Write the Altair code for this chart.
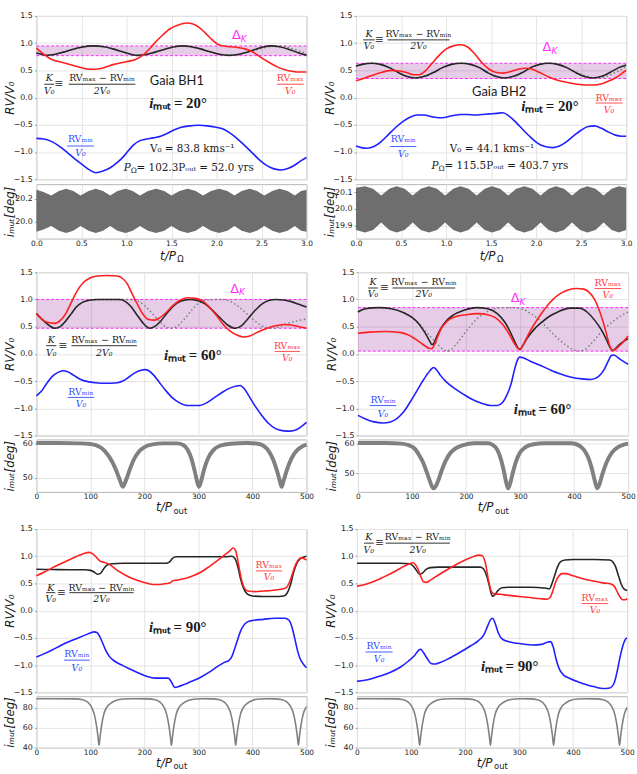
import altair as alt
import pandas as pd

# ------------------------------------------------------------------ styling
SANS = "DejaVu Sans"
SERIF = "DejaVu Serif"
INK = "#1a1a1a"
RED = "#ff1f1f"
BLUE = "#1f1fff"
RED_TXT = "#ff3b3b"
BLUE_TXT = "#2f4bff"
MAGENTA = "#ff2bff"
DOT_GREY = "#6e7e6e"
BAND = "#800080"

W = 273
MAIN_H = 165

RV_TICKS = [-1.5, -1.0, -0.5, 0.0, 0.5, 1.0, 1.5]
T_OMEGA = [0.0, 0.5, 1.0, 1.5, 2.0, 2.5, 3.0]
T_OUT = [0, 100, 200, 300, 400, 500]

# ------------------------------------------------------------------ data
# Gaia BH1, i_mut = 20 deg (t / P_Omega)
bh1_20_max = [(0.0, 0.91), (0.08, 0.80), (0.16, 0.71), (0.30, 0.64), (0.45, 0.57), (0.60, 0.52),
              (0.70, 0.53), (0.86, 0.61), (1.00, 0.66), (1.10, 0.70), (1.19, 0.79), (1.27, 0.92),
              (1.34, 1.05), (1.41, 1.16), (1.48, 1.26), (1.57, 1.33), (1.67, 1.37), (1.74, 1.35),
              (1.80, 1.30), (1.88, 1.18), (1.96, 1.05), (2.04, 0.96), (2.12, 0.94), (2.20, 0.93),
              (2.30, 0.90), (2.38, 0.86), (2.45, 0.79), (2.52, 0.71), (2.60, 0.63), (2.68, 0.56),
              (2.76, 0.51), (2.85, 0.48), (2.93, 0.47), (3.00, 0.47)]
bh1_20_min = [(0.0, -0.75), (0.08, -0.76), (0.16, -0.80), (0.26, -0.90), (0.35, -1.02), (0.43, -1.13),
              (0.50, -1.22), (0.58, -1.32), (0.66, -1.38), (0.74, -1.35), (0.82, -1.29), (0.90, -1.19),
              (0.97, -1.08), (1.03, -0.96), (1.08, -0.87), (1.14, -0.80), (1.20, -0.77), (1.30, -0.74),
              (1.38, -0.71), (1.45, -0.66), (1.52, -0.60), (1.60, -0.55), (1.70, -0.52), (1.80, -0.51),
              (1.90, -0.52), (1.98, -0.54), (2.06, -0.57), (2.14, -0.64), (2.22, -0.74), (2.30, -0.86),
              (2.40, -1.02), (2.48, -1.15), (2.56, -1.25), (2.64, -1.31), (2.72, -1.33), (2.80, -1.30),
              (2.88, -1.23), (2.95, -1.15), (3.00, -1.10)]
bh1_20_k = [(0.0, 0.82), (0.06, 0.795), (0.12, 0.775), (0.20, 0.79), (0.30, 0.835), (0.40, 0.885),
            (0.50, 0.925), (0.63, 0.95), (0.75, 0.935), (0.85, 0.895), (0.95, 0.845), (1.05, 0.795),
            (1.13, 0.775), (1.22, 0.79), (1.32, 0.835), (1.42, 0.885), (1.52, 0.93), (1.62, 0.95),
            (1.72, 0.935), (1.82, 0.895), (1.92, 0.845), (2.03, 0.795), (2.14, 0.775), (2.24, 0.79),
            (2.34, 0.835), (2.44, 0.89), (2.52, 0.93), (2.60, 0.95), (2.70, 0.935), (2.80, 0.89),
            (2.90, 0.83), (3.00, 0.78)]
bh1_20_kmodel = [(0.0, 0.82), (0.06, 0.795), (0.12, 0.775), (0.20, 0.79), (0.30, 0.835), (0.40, 0.885),
                 (0.50, 0.925), (0.63, 0.95), (0.75, 0.935), (0.85, 0.895), (0.95, 0.845), (1.05, 0.795),
                 (1.13, 0.775), (1.22, 0.79), (1.32, 0.835), (1.42, 0.885), (1.52, 0.93), (1.62, 0.95),
                 (1.72, 0.935), (1.82, 0.895), (1.92, 0.845), (2.03, 0.795), (2.14, 0.775), (2.24, 0.79),
                 (2.34, 0.835), (2.44, 0.875), (2.53, 0.915), (2.63, 0.945), (2.73, 0.945), (2.83, 0.905),
                 (2.92, 0.855), (3.00, 0.81)]
bh1_20_band = [0.77, 0.95]
# i_mut envelope (t, lower, upper)
bh1_20_imut = [(0.0, 19.91, 20.28), (0.08, 19.93, 20.26), (0.165, 19.96, 20.23), (0.25, 19.92, 20.27),
               (0.33, 19.90, 20.29), (0.41, 19.92, 20.27), (0.49, 19.96, 20.23), (0.58, 19.92, 20.27),
               (0.66, 19.90, 20.29), (0.74, 19.92, 20.27), (0.82, 19.96, 20.23), (0.90, 19.92, 20.27),
               (0.99, 19.90, 20.29), (1.07, 19.92, 20.27), (1.15, 19.96, 20.23), (1.24, 19.92, 20.27),
               (1.33, 19.90, 20.29), (1.42, 19.92, 20.27), (1.50, 19.96, 20.23), (1.59, 19.92, 20.27),
               (1.68, 19.90, 20.29), (1.77, 19.92, 20.27), (1.85, 19.96, 20.23), (1.94, 19.92, 20.27),
               (2.03, 19.90, 20.29), (2.12, 19.92, 20.27), (2.20, 19.96, 20.23), (2.28, 19.92, 20.27),
               (2.37, 19.90, 20.29), (2.45, 19.92, 20.27), (2.53, 19.96, 20.23), (2.62, 19.92, 20.27),
               (2.70, 19.90, 20.29), (2.79, 19.92, 20.27), (2.87, 19.96, 20.23), (2.94, 19.92, 20.27),
               (3.00, 19.91, 20.28)]

# Gaia BH2, i_mut = 20 deg (t / P_Omega)
bh2_20_max = [(0.0, 0.31), (0.10, 0.36), (0.20, 0.42), (0.30, 0.47), (0.40, 0.50), (0.48, 0.49),
              (0.56, 0.46), (0.64, 0.42), (0.70, 0.42), (0.77, 0.49), (0.84, 0.62), (0.92, 0.77),
              (1.00, 0.89), (1.08, 0.95), (1.16, 0.97), (1.24, 0.93), (1.32, 0.80), (1.40, 0.64),
              (1.48, 0.52), (1.56, 0.46), (1.64, 0.45), (1.72, 0.48), (1.80, 0.52), (1.88, 0.54),
              (1.96, 0.52), (2.04, 0.46), (2.14, 0.38), (2.24, 0.32), (2.34, 0.28), (2.44, 0.25),
              (2.54, 0.23), (2.64, 0.23), (2.72, 0.25), (2.80, 0.30), (2.88, 0.36), (2.95, 0.44),
              (3.00, 0.50)]
bh2_20_min = [(0.0, -0.89), (0.06, -0.92), (0.12, -0.93), (0.20, -0.90), (0.28, -0.81), (0.36, -0.68),
              (0.44, -0.55), (0.52, -0.44), (0.60, -0.36), (0.68, -0.32), (0.76, -0.32), (0.84, -0.35),
              (0.92, -0.37), (1.00, -0.36), (1.08, -0.33), (1.16, -0.31), (1.24, -0.31), (1.32, -0.32),
              (1.40, -0.31), (1.48, -0.30), (1.56, -0.29), (1.63, -0.28), (1.70, -0.34), (1.78, -0.46),
              (1.86, -0.60), (1.94, -0.73), (2.02, -0.84), (2.10, -0.90), (2.18, -0.92), (2.26, -0.89),
              (2.34, -0.81), (2.42, -0.70), (2.50, -0.60), (2.58, -0.53), (2.65, -0.52), (2.72, -0.56),
              (2.80, -0.63), (2.88, -0.69), (2.95, -0.71), (3.00, -0.71)]
bh2_20_k = [(0.0, 0.58), (0.08, 0.615), (0.17, 0.63), (0.27, 0.61), (0.37, 0.55), (0.47, 0.46),
            (0.56, 0.39), (0.66, 0.36), (0.76, 0.39), (0.86, 0.46), (0.96, 0.55), (1.06, 0.61),
            (1.17, 0.63), (1.27, 0.61), (1.37, 0.55), (1.46, 0.46), (1.55, 0.39), (1.65, 0.36),
            (1.75, 0.39), (1.85, 0.46), (1.94, 0.55), (2.04, 0.61), (2.14, 0.63), (2.24, 0.61),
            (2.34, 0.55), (2.44, 0.46), (2.53, 0.39), (2.63, 0.36), (2.73, 0.39), (2.83, 0.47),
            (2.92, 0.55), (3.00, 0.60)]
bh2_20_kmodel = [(0.0, 0.58), (0.08, 0.615), (0.17, 0.63), (0.27, 0.61), (0.37, 0.55), (0.47, 0.46),
                 (0.56, 0.39), (0.66, 0.36), (0.76, 0.39), (0.86, 0.46), (0.96, 0.55), (1.06, 0.61),
                 (1.17, 0.63), (1.27, 0.61), (1.37, 0.55), (1.46, 0.46), (1.55, 0.39), (1.65, 0.36),
                 (1.75, 0.39), (1.85, 0.46), (1.94, 0.55), (2.04, 0.61), (2.14, 0.63), (2.24, 0.61),
                 (2.34, 0.55), (2.44, 0.47), (2.55, 0.40), (2.66, 0.36), (2.78, 0.39), (2.88, 0.46),
                 (2.96, 0.53), (3.00, 0.57)]
bh2_20_band = [0.35, 0.63]
bh2_20_imut = [(0.0, 19.875, 20.125), (0.10, 19.86, 20.135), (0.19, 19.875, 20.12), (0.28, 19.92, 20.08),
               (0.37, 19.875, 20.12), (0.45, 19.86, 20.135), (0.54, 19.875, 20.12), (0.63, 19.92, 20.08),
               (0.72, 19.875, 20.12), (0.81, 19.86, 20.135), (0.90, 19.875, 20.12), (0.99, 19.92, 20.08),
               (1.08, 19.875, 20.12), (1.16, 19.86, 20.135), (1.25, 19.875, 20.12), (1.34, 19.92, 20.08),
               (1.43, 19.875, 20.12), (1.51, 19.86, 20.135), (1.60, 19.875, 20.12), (1.69, 19.92, 20.08),
               (1.78, 19.875, 20.12), (1.87, 19.86, 20.135), (1.96, 19.875, 20.12), (2.05, 19.92, 20.08),
               (2.14, 19.875, 20.12), (2.22, 19.86, 20.135), (2.31, 19.875, 20.12), (2.40, 19.92, 20.08),
               (2.49, 19.875, 20.12), (2.57, 19.86, 20.135), (2.66, 19.875, 20.12), (2.75, 19.92, 20.08),
               (2.84, 19.875, 20.12), (2.92, 19.86, 20.135), (3.00, 19.875, 20.125)]

# Gaia BH1, i_mut = 60 deg (t / P_out)
bh1_60_max = [(0, 0.74), (10, 0.64), (20, 0.58), (34, 0.56), (45, 0.62), (55, 0.75), (65, 0.95),
              (75, 1.15), (88, 1.32), (100, 1.40), (113, 1.43), (130, 1.44), (150, 1.43), (160, 1.38),
              (168, 1.29), (176, 1.13), (186, 0.93), (198, 0.72), (208, 0.63), (218, 0.62), (228, 0.66),
              (240, 0.76), (253, 0.89), (265, 0.98), (280, 1.03), (295, 1.02), (308, 0.97), (320, 0.86),
              (333, 0.71), (345, 0.55), (357, 0.43), (370, 0.35), (383, 0.31), (395, 0.33), (410, 0.40),
              (425, 0.46), (440, 0.51), (458, 0.54), (472, 0.53), (486, 0.50), (500, 0.47)]
bh1_60_min = [(0, -0.77), (10, -0.68), (20, -0.53), (30, -0.41), (40, -0.34), (49, -0.31), (58, -0.33),
              (70, -0.40), (82, -0.47), (95, -0.51), (110, -0.53), (130, -0.54), (150, -0.53),
              (160, -0.50), (172, -0.42), (184, -0.34), (194, -0.30), (201, -0.29), (208, -0.31),
              (218, -0.40), (228, -0.53), (240, -0.68), (252, -0.81), (265, -0.90), (280, -0.95),
              (300, -0.95), (315, -0.90), (330, -0.80), (345, -0.70), (358, -0.63), (370, -0.59),
              (377, -0.58), (385, -0.64), (395, -0.80), (405, -0.96), (418, -1.14), (430, -1.28),
              (442, -1.37), (455, -1.41), (470, -1.42), (480, -1.40), (490, -1.34), (500, -1.26)]
bh1_60_k = [(0, 0.74), (12, 0.62), (24, 0.52), (34, 0.47), (44, 0.50), (54, 0.60), (64, 0.73),
            (74, 0.86), (86, 0.95), (100, 0.99), (113, 1.0), (155, 1.0), (165, 0.96), (175, 0.87),
            (186, 0.72), (198, 0.56), (210, 0.47), (220, 0.51), (230, 0.60), (242, 0.75), (254, 0.88),
            (268, 0.97), (284, 1.0), (298, 0.98), (312, 0.92), (326, 0.80), (340, 0.66), (354, 0.53),
            (368, 0.47), (380, 0.52), (392, 0.65), (405, 0.80), (418, 0.92), (430, 0.98), (443, 1.0),
            (458, 0.99), (472, 0.96), (486, 0.91), (500, 0.86)]
bh1_60_kmodel = [(0, 0.74), (12, 0.62), (24, 0.52), (34, 0.47), (44, 0.50), (54, 0.60), (64, 0.73),
                 (74, 0.86), (86, 0.95), (100, 0.99), (113, 1.0), (175, 1.0), (188, 0.97), (200, 0.89),
                 (212, 0.77), (225, 0.63), (238, 0.51), (250, 0.47), (262, 0.52), (275, 0.65), (288, 0.81),
                 (300, 0.93), (315, 0.99), (345, 1.0), (360, 0.96), (375, 0.86), (390, 0.73), (405, 0.60),
                 (420, 0.50), (435, 0.47), (450, 0.50), (465, 0.56), (480, 0.60), (500, 0.64)]
bh1_60_band = [0.47, 1.0]
bh1_60_imut = [(0, 60.2), (40, 60.2), (80, 60.1), (100, 59.9), (110, 59.6), (120, 58.8), (130, 57.2),
               (140, 54.8), (148, 52.0), (154, 49.5), (160, 47.3), (166, 49.3), (172, 52.0), (180, 55.2),
               (190, 57.7), (200, 59.0), (215, 59.8), (235, 60.1), (260, 60.1), (272, 59.6), (280, 58.2),
               (287, 55.6), (293, 52.0), (297, 49.2), (301, 47.3), (305, 49.0), (310, 52.2), (318, 55.8),
               (328, 58.2), (340, 59.4), (360, 60.0), (390, 60.2), (410, 60.0), (420, 59.4), (430, 57.8),
               (438, 55.4), (445, 52.2), (450, 49.4), (454, 47.3), (458, 49.3), (464, 52.4), (472, 55.6),
               (482, 58.0), (492, 59.2), (500, 59.7)]

# Gaia BH2, i_mut = 60 deg (t / P_out)
bh2_60_max = [(0, 0.38), (20, 0.40), (50, 0.41), (80, 0.39), (95, 0.34), (105, 0.28), (115, 0.21),
              (125, 0.14), (133, 0.10), (137, 0.10), (142, 0.18), (148, 0.33), (155, 0.48), (165, 0.60),
              (180, 0.68), (200, 0.72), (222, 0.74), (240, 0.72), (255, 0.66), (268, 0.54), (280, 0.36),
              (289, 0.20), (296, 0.10), (300, 0.09), (306, 0.17), (315, 0.35), (326, 0.54), (338, 0.72),
              (350, 0.88), (362, 1.01), (375, 1.11), (390, 1.18), (405, 1.20), (418, 1.19), (428, 1.13),
              (438, 1.00), (446, 0.82), (454, 0.58), (461, 0.33), (466, 0.15), (471, 0.06), (476, 0.08),
              (482, 0.13), (490, 0.21), (500, 0.33)]
bh2_60_min = [(0, -1.13), (15, -1.20), (30, -1.25), (46, -1.27), (60, -1.25), (72, -1.19), (85, -1.06),
              (97, -0.88), (108, -0.70), (118, -0.53), (127, -0.39), (134, -0.30), (140, -0.25),
              (146, -0.30), (153, -0.40), (163, -0.51), (178, -0.63), (195, -0.74), (212, -0.84),
              (230, -0.91), (245, -0.95), (258, -0.95), (268, -0.89), (276, -0.75), (284, -0.53),
              (290, -0.28), (295, -0.12), (299, -0.06), (306, -0.07), (318, -0.13), (335, -0.20),
              (355, -0.29), (375, -0.37), (395, -0.43), (415, -0.46), (432, -0.47), (445, -0.42),
              (455, -0.30), (463, -0.14), (469, -0.03), (474, -0.02), (480, -0.06), (490, -0.13),
              (500, -0.19)]
bh2_60_k = [(0, 0.77), (13, 0.83), (38, 0.85), (62, 0.83), (86, 0.75), (100, 0.67), (111, 0.57),
            (120, 0.45), (127, 0.34), (133, 0.23), (137, 0.17), (141, 0.20), (146, 0.32), (153, 0.46),
            (163, 0.60), (176, 0.71), (196, 0.80), (220, 0.85), (240, 0.83), (258, 0.74), (272, 0.58),
            (282, 0.40), (290, 0.23), (296, 0.11), (300, 0.08), (305, 0.15), (314, 0.30), (326, 0.45),
            (340, 0.58), (356, 0.70), (372, 0.78), (392, 0.84), (410, 0.84), (425, 0.76), (438, 0.62),
            (450, 0.45), (460, 0.26), (467, 0.11), (472, 0.06), (477, 0.10), (484, 0.17), (492, 0.23),
            (500, 0.28)]
bh2_60_kmodel = [(0, 0.77), (13, 0.83), (38, 0.85), (62, 0.83), (86, 0.75), (100, 0.67), (111, 0.57),
                 (124, 0.43), (136, 0.30), (148, 0.17), (158, 0.08), (165, 0.05), (172, 0.08), (184, 0.20),
                 (196, 0.36), (208, 0.51), (220, 0.64), (235, 0.75), (250, 0.82), (268, 0.85), (290, 0.85),
                 (305, 0.82), (320, 0.74), (336, 0.62), (350, 0.48), (362, 0.36), (375, 0.24), (388, 0.14),
                 (400, 0.07), (410, 0.05), (420, 0.08), (433, 0.20), (445, 0.34), (457, 0.47), (470, 0.58),
                 (482, 0.67), (492, 0.73), (500, 0.77)]
bh2_60_band = [0.05, 0.85]
bh2_60_imut = [(0, 60.2), (50, 60.2), (80, 60.0), (95, 59.4), (105, 58.3), (113, 56.2), (120, 53.9),
               (127, 50.6), (133, 47.5), (137, 45.6), (140, 45.0), (144, 45.7), (149, 47.8), (155, 51.0),
               (162, 54.1), (170, 56.6), (180, 58.3), (195, 59.5), (215, 60.1), (240, 60.1), (250, 59.5),
               (258, 57.9), (265, 54.5), (270, 50.8), (274, 47.3), (278, 45.0), (282, 46.8), (287, 50.5),
               (293, 54.2), (300, 57.0), (310, 58.8), (325, 59.8), (345, 60.1), (395, 60.1), (408, 59.5),
               (418, 58.0), (426, 55.4), (432, 52.2), (437, 48.5), (441, 45.8), (443, 45.0), (446, 45.9),
               (452, 49.5), (460, 53.7), (470, 57.0), (482, 58.9), (492, 59.7), (500, 60.0)]

# Gaia BH1, i_mut = 90 deg (t / P_out)
bh1_90_max = [(0, 0.64), (15, 0.71), (30, 0.79), (45, 0.86), (60, 0.93), (75, 1.00), (88, 1.05),
              (97, 1.07), (105, 1.04), (112, 0.97), (118, 0.91), (125, 0.89), (135, 0.85), (150, 0.74),
              (165, 0.65), (180, 0.58), (195, 0.53), (210, 0.49), (223, 0.48), (235, 0.49), (247, 0.51),
              (253, 0.55), (260, 0.56), (275, 0.59), (290, 0.64), (305, 0.71), (320, 0.81), (335, 0.92),
              (348, 1.02), (358, 1.10), (364, 1.15), (368, 1.12), (372, 0.97), (376, 0.75), (381, 0.52),
              (386, 0.40), (392, 0.36), (405, 0.35), (420, 0.36), (435, 0.37), (450, 0.39), (460, 0.41),
              (466, 0.47), (472, 0.62), (478, 0.80), (484, 0.92), (490, 0.97), (495, 0.96), (500, 0.93)]
bh1_90_min = [(0, -0.85), (15, -0.79), (30, -0.72), (45, -0.64), (60, -0.57), (75, -0.51), (90, -0.45),
              (100, -0.41), (107, -0.39), (112, -0.40), (117, -0.47), (122, -0.58), (128, -0.72),
              (135, -0.84), (145, -0.93), (160, -1.01), (175, -1.08), (190, -1.15), (205, -1.21),
              (220, -1.24), (235, -1.24), (244, -1.24), (250, -1.31), (256, -1.41), (262, -1.40),
              (275, -1.35), (290, -1.29), (305, -1.22), (320, -1.13), (335, -1.03), (348, -0.95),
              (356, -0.92), (362, -0.84), (367, -0.70), (372, -0.55), (377, -0.40), (383, -0.28),
              (390, -0.21), (400, -0.18), (420, -0.16), (440, -0.14), (460, -0.14), (468, -0.18),
              (473, -0.30), (478, -0.50), (483, -0.72), (488, -0.88), (494, -0.98), (500, -1.05)]
bh1_90_k = [(0, 0.76), (30, 0.755), (60, 0.75), (90, 0.75), (100, 0.74), (107, 0.71), (113, 0.67),
            (118, 0.68), (124, 0.76), (131, 0.84), (140, 0.86), (160, 0.87), (200, 0.87), (240, 0.87),
            (246, 0.89), (252, 0.96), (258, 0.99), (280, 0.99), (320, 0.99), (350, 0.99), (362, 1.00),
            (368, 0.95), (373, 0.80), (378, 0.58), (384, 0.40), (390, 0.31), (400, 0.27), (420, 0.26),
            (440, 0.26), (458, 0.27), (464, 0.32), (470, 0.46), (476, 0.70), (482, 0.87), (488, 0.95),
            (494, 0.98), (500, 1.00)]
bh1_90_imut = [(0, 89.5), (30, 89.5), (71, 89.3), (86, 88.5), (96, 85.5), (102, 81.0), (107, 74.0),
               (111, 63.0), (114, 51.0), (116, 42.0), (118, 51.0), (121, 63.0), (125, 74.0), (130, 80.5),
               (138, 85.0), (148, 88.0), (161, 89.2), (180, 89.5), (205, 89.3), (220, 88.5), (230, 85.5),
               (236, 81.0), (241, 74.0), (245, 63.0), (248, 51.0), (250, 42.0), (252, 51.0), (255, 63.0),
               (259, 74.0), (264, 80.5), (272, 85.0), (282, 88.0), (295, 89.2), (310, 89.4), (324, 89.3),
               (339, 88.5), (349, 85.5), (355, 81.0), (360, 74.0), (364, 63.0), (367, 51.0), (369, 42.0),
               (371, 51.0), (374, 63.0), (378, 74.0), (383, 80.5), (391, 85.0), (401, 88.0), (414, 89.2),
               (428, 89.4), (440, 89.3), (455, 88.5), (465, 85.5), (471, 81.0), (476, 74.0), (480, 63.0),
               (483, 51.0), (485, 42.0), (487, 51.0), (490, 63.0), (494, 74.0), (499, 80.5), (500, 81.5)]

# Gaia BH2, i_mut = 90 deg (t / P_out)
bh2_90_max = [(0, 0.45), (15, 0.48), (30, 0.53), (50, 0.62), (70, 0.72), (90, 0.83), (103, 0.88),
              (108, 0.85), (113, 0.76), (118, 0.63), (123, 0.53), (128, 0.52), (136, 0.56), (150, 0.65),
              (170, 0.77), (190, 0.88), (210, 0.97), (225, 1.02), (232, 1.01), (238, 0.86), (243, 0.58),
              (248, 0.37), (253, 0.31), (265, 0.30), (280, 0.28), (300, 0.26), (320, 0.24), (340, 0.22),
              (352, 0.21), (358, 0.25), (363, 0.38), (368, 0.53), (374, 0.64), (380, 0.68), (386, 0.68),
              (400, 0.64), (420, 0.58), (440, 0.54), (455, 0.51), (470, 0.49), (477, 0.44), (482, 0.34),
              (487, 0.25), (492, 0.20), (497, 0.20), (500, 0.22)]
bh2_90_min = [(0, -1.30), (20, -1.27), (40, -1.21), (60, -1.14), (80, -1.04), (95, -0.93), (107, -0.82),
              (114, -0.73), (118, -0.71), (123, -0.77), (130, -0.88), (137, -0.97), (145, -0.98),
              (155, -0.95), (170, -0.88), (190, -0.77), (210, -0.65), (225, -0.55), (235, -0.44),
              (242, -0.28), (247, -0.17), (251, -0.14), (256, -0.24), (262, -0.42), (270, -0.53),
              (285, -0.58), (305, -0.61), (325, -0.63), (342, -0.62), (352, -0.58), (358, -0.57),
              (363, -0.66), (368, -0.87), (374, -1.06), (382, -1.18), (395, -1.25), (410, -1.31),
              (425, -1.36), (440, -1.40), (455, -1.43), (468, -1.42), (476, -1.33), (482, -1.10),
              (487, -0.85), (492, -0.65), (496, -0.54), (500, -0.50)]
bh2_90_k = [(0, 0.87), (40, 0.87), (80, 0.87), (98, 0.86), (104, 0.82), (110, 0.74), (116, 0.67),
            (121, 0.69), (128, 0.76), (136, 0.79), (150, 0.80), (190, 0.80), (228, 0.80), (234, 0.77),
            (239, 0.67), (244, 0.50), (248, 0.33), (251, 0.26), (255, 0.29), (261, 0.37), (268, 0.42),
            (280, 0.43), (320, 0.43), (350, 0.41), (356, 0.40), (361, 0.50), (366, 0.65), (371, 0.80),
            (377, 0.90), (385, 0.93), (400, 0.94), (440, 0.94), (468, 0.93), (474, 0.89), (479, 0.80),
            (484, 0.64), (489, 0.49), (494, 0.40), (500, 0.37)]
bh2_90_imut = [(0, 89.5), (30, 89.5), (71, 89.3), (86, 88.5), (96, 85.5), (102, 81.0), (107, 74.0),
               (111, 63.0), (114, 51.0), (116, 42.0), (118, 51.0), (121, 63.0), (125, 74.0), (130, 80.5),
               (138, 85.0), (148, 88.0), (161, 89.2), (180, 89.5), (202, 89.3), (217, 88.5), (227, 85.5),
               (233, 81.0), (238, 74.0), (242, 63.0), (245, 51.0), (247, 42.0), (249, 51.0), (252, 63.0),
               (256, 74.0), (261, 80.5), (269, 85.0), (279, 88.0), (292, 89.2), (305, 89.5), (319, 89.3),
               (334, 88.5), (344, 85.5), (350, 81.0), (355, 74.0), (359, 63.0), (362, 51.0), (364, 42.0),
               (366, 51.0), (369, 63.0), (373, 74.0), (378, 80.5), (386, 85.0), (396, 88.0), (409, 89.2),
               (425, 89.4), (441, 89.3), (456, 88.5), (466, 85.5), (472, 81.0), (477, 74.0), (481, 63.0),
               (484, 51.0), (486, 42.0), (488, 51.0), (491, 63.0), (495, 74.0), (500, 80.5)]


# ------------------------------------------------------------------ helpers
def text_at(X, Y, x, y, s, **style):
    df = pd.DataFrame({"x": [x], "y": [y], "s": [s]})
    return alt.Chart(df).mark_text(**style).encode(x=X("x"), y=Y("y"), text="s:N")


def bar_at(X, Y, x1, x2, y, color):
    df = pd.DataFrame({"x1": [x1], "x2": [x2], "y": [y]})
    return alt.Chart(df).mark_rule(color=color, strokeWidth=0.9).encode(
        x=X("x1"), x2=alt.X2("x2"), y=Y("y"))


def fraction(X, Y, x1, x2, yn, yb, yd, num, den, color, size=9.5, num_style="normal"):
    xc = (x1 + x2) / 2
    st = dict(font=SERIF, fontSize=size, color=color, align="center", baseline="middle")
    return [text_at(X, Y, xc, yn, num, fontStyle=num_style, **st),
            bar_at(X, Y, x1, x2, yb, color),
            text_at(X, Y, xc, yd, den, fontStyle="italic", **st)]


def annotations(X, Y, n):
    out = []
    kx1, kx2, yn, yb, yd, xeq, bx1, bx2 = n["kdef"]
    out += fraction(X, Y, kx1, kx2, yn, yb, yd, "K", "V₀", INK, num_style="italic")
    out.append(text_at(X, Y, xeq, yb, "≡", font=SERIF, fontSize=11, color=INK,
                       align="center", baseline="middle"))
    out += fraction(X, Y, bx1, bx2, yn, yb, yd, "RVₘₐₓ − RVₘᵢₙ", "2V₀", INK)
    x1, x2, a, b, c = n["rvmax"]
    out += fraction(X, Y, x1, x2, a, b, c, "RVₘₐₓ", "V₀", RED_TXT)
    x1, x2, a, b, c = n["rvmin"]
    out += fraction(X, Y, x1, x2, a, b, c, "RVₘᵢₙ", "V₀", BLUE_TXT)
    xi, yi, deg = n["imut"]
    bold = dict(font="Liberation Serif", fontSize=15, fontWeight="bold", color=INK, baseline="middle")
    out.append(text_at(X, Y, xi, yi, "i", align="right", fontStyle="italic", **bold))
    out.append(text_at(X, Y, xi, yi, "ₘᵤₜ = " + deg, align="left", **bold))
    if "delta" in n:
        xd, ydl = n["delta"]
        out.append(text_at(X, Y, xd, ydl, "Δ", align="right", baseline="middle", font=SANS,
                           fontSize=13, color=MAGENTA))
        out.append(text_at(X, Y, xd, ydl, "K", align="left", baseline="middle", dy=4, font=SANS,
                           fontStyle="italic", fontSize=9, color=MAGENTA))
    if "gaia" in n:
        xg, yg, s = n["gaia"]
        out.append(text_at(X, Y, xg, yg, s, align="center", baseline="middle", font="Lato",
                           fontSize=13, color=INK))
    if "v0" in n:
        xv, yv, s = n["v0"]
        out.append(text_at(X, Y, xv, yv, s, align="center", baseline="middle", font=SERIF,
                           fontSize=10.5, color=INK))
    if "period" in n:
        xp, yp, s = n["period"]
        st = dict(font=SERIF, color=INK, baseline="middle", align="left")
        out.append(text_at(X, Y, xp, yp, "P", fontSize=10.5, fontStyle="italic", **st))
        out.append(text_at(X, Y, xp, yp, "Ω", fontSize=7.5, dx=7, dy=3, **st))
        out.append(text_at(X, Y, xp, yp, s, fontSize=10.5, dx=13, **st))
    return out


def y_axis(values, fmt, title):
    return alt.Axis(values=values, format=fmt, title=title, titleX=-27, titleBaseline="middle",
                    titleAngle=270, grid=True)


def main_panel(spec):
    sx = alt.Scale(domain=spec["xdom"], nice=False, zero=False)
    sy = alt.Scale(domain=[-1.5, 1.5], nice=False, zero=False)
    ax_x = alt.Axis(values=spec["xticks"], labels=False, ticks=False, domain=False, title=None, grid=True)
    ax_y = y_axis(RV_TICKS, ".1f", "RV/V₀")

    def X(f):
        return alt.X(f"{f}:Q", scale=sx, axis=ax_x)

    def Y(f):
        return alt.Y(f"{f}:Q", scale=sy, axis=ax_y)

    layers = []
    if "band" in spec:
        lo, hi = spec["band"]
        layers.append(alt.Chart(pd.DataFrame({"lo": [lo], "hi": [hi]}))
                      .mark_rect(color=BAND, opacity=0.2).encode(y=Y("lo"), y2=alt.Y2("hi")))
        layers.append(alt.Chart(pd.DataFrame({"v": [lo, hi]}))
                      .mark_rule(color=MAGENTA, strokeDash=[3, 2], strokeWidth=1).encode(y=Y("v")))
    styles = [("kmodel", DOT_GREY, [1.5, 2.5], 1.4), ("k", "#262626", None, 1.6),
              ("max", RED, None, 1.6), ("min", BLUE, None, 1.6)]
    for key, color, dash, width in styles:
        if key not in spec["curves"]:
            continue
        mk = dict(color=color, strokeWidth=width, interpolate="monotone")
        if dash:
            mk["strokeDash"] = dash
        df = pd.DataFrame(spec["curves"][key], columns=["x", "y"])
        layers.append(alt.Chart(df).mark_line(**mk).encode(x=X("x"), y=Y("y")))
    layers += annotations(X, Y, spec["notes"])
    return alt.layer(*layers).properties(width=W, height=MAIN_H)


def small_panel(spec):
    sx = alt.Scale(domain=spec["xdom"], nice=False, zero=False)
    sy = alt.Scale(domain=spec["idom"], nice=False, zero=False)
    ax_x = alt.Axis(values=spec["xticks"], format=spec["xfmt"], title=None, grid=True,
                    labelFlush=False, ticks=False, labelPadding=1, labelFontSize=7.5)
    ax_y = y_axis(spec["iticks"], spec["ifmt"], "iₘᵤₜ[deg]")
    H = spec["h"]
    ty = spec["title_dy"]
    layers = []
    if spec["kind"] == "band":
        df = pd.DataFrame(spec["data"], columns=["x", "lo", "hi"])
        layers.append(alt.Chart(df).mark_area(color="#6e6e6e", opacity=1).encode(
            x=alt.X("x:Q", scale=sx, axis=ax_x), y=alt.Y("lo:Q", scale=sy, axis=ax_y), y2=alt.Y2("hi")))
    else:
        df = pd.DataFrame(spec["data"], columns=["x", "y"])
        layers.append(alt.Chart(df).mark_line(color="#808080", strokeWidth=spec["lw"],
                                              interpolate="monotone").encode(
            x=alt.X("x:Q", scale=sx, axis=ax_x), y=alt.Y("y:Q", scale=sy, axis=ax_y)))
    sub = spec["sub"]
    xr = W / 2 + (4.5 if sub == "Ω" else 0.5)
    layers.append(alt.Chart(pd.DataFrame({"s": ["t/P"]})).mark_text(
        align="right", baseline="middle", font=SANS, fontStyle="italic", fontSize=12, color=INK
    ).encode(x=alt.value(xr), y=alt.value(H + ty), text="s:N"))
    layers.append(alt.Chart(pd.DataFrame({"s": [sub]})).mark_text(
        align="left", baseline="middle", font=SANS, fontSize=8.5, color=INK
    ).encode(x=alt.value(xr + 1.5), y=alt.value(H + ty + 3.5), text="s:N"))
    return alt.layer(*layers).properties(width=W, height=H)


# ------------------------------------------------------------------ panels
A = dict(xdom=[0, 3], xticks=T_OMEGA, band=bh1_20_band,
         curves=dict(kmodel=bh1_20_kmodel, k=bh1_20_k, max=bh1_20_max, min=bh1_20_min),
         notes=dict(kdef=(0.088, 0.198, 0.35, 0.245, 0.12, 0.25, 0.36, 1.10),
                    rvmax=(2.67, 2.97, 0.35, 0.245, 0.12), rvmin=(0.34, 0.64, -0.77, -0.89, -1.01),
                    imut=(1.30, -0.10, "20°"), delta=(2.27, 1.14), gaia=(1.56, 0.31, "Gaia BH1"),
                    v0=(1.73, -0.95, "V₀ = 83.8 kms⁻¹"),
                    period=(0.97, -1.29, " = 102.3Pₒᵤₜ = 52.0 yrs")))
B = dict(xdom=[0, 3], xticks=T_OMEGA, band=bh2_20_band,
         curves=dict(kmodel=bh2_20_kmodel, k=bh2_20_k, max=bh2_20_max, min=bh2_20_min),
         notes=dict(kdef=(0.08, 0.21, 1.17, 1.06, 0.94, 0.26, 0.35, 1.04),
                    rvmax=(2.66, 2.96, 0.0, -0.10, -0.23), rvmin=(0.38, 0.67, -0.77, -0.90, -1.04),
                    imut=(1.88, -0.15, "20°"), delta=(2.17, 0.93), gaia=(1.59, 0.11, "Gaia BH2"),
                    v0=(1.51, -0.95, "V₀ = 44.1 kms⁻¹"),
                    period=(0.84, -1.26, " = 115.5Pₒᵤₜ = 403.7 yrs")))
C = dict(xdom=[0, 500], xticks=T_OUT, band=bh1_60_band,
         curves=dict(kmodel=bh1_60_kmodel, k=bh1_60_k, max=bh1_60_max, min=bh1_60_min),
         notes=dict(kdef=(18, 37, 0.26, 0.15, 0.01, 49, 65, 186),
                    rvmax=(441, 488, 0.15, 0.045, -0.08), rvmin=(58, 107, -0.71, -0.80, -0.92),
                    imut=(244, -0.03, "60°"), delta=(375, 1.20)))
D = dict(xdom=[0, 500], xticks=T_OUT, band=bh2_60_band,
         curves=dict(kmodel=bh2_60_kmodel, k=bh2_60_k, max=bh2_60_max, min=bh2_60_min),
         notes=dict(kdef=(19, 37, 1.32, 1.21, 1.10, 49, 64, 180),
                    rvmax=(438, 487, 1.30, 1.20, 1.08), rvmin=(22, 71, -0.85, -0.95, -1.10),
                    imut=(296, -1.01, "60°"), delta=(299, 1.03)))
E = dict(xdom=[0, 500], xticks=T_OUT,
         curves=dict(k=bh1_90_k, max=bh1_90_max, min=bh1_90_min),
         notes=dict(kdef=(18, 35, 0.42, 0.33, 0.22, 46, 61, 180),
                    rvmax=(406, 455, 0.83, 0.73, 0.61), rvmin=(51, 99, -0.80, -0.91, -1.05),
                    imut=(216, -0.30, "90°")))
F = dict(xdom=[0, 500], xticks=T_OUT,
         curves=dict(k=bh2_90_k, max=bh2_90_max, min=bh2_90_min),
         notes=dict(kdef=(13, 31, 1.35, 1.24, 1.11, 42, 53, 172),
                    rvmax=(416, 465, 0.24, 0.13, 0.01), rvmin=(16, 66, -0.65, -0.76, -0.89),
                    imut=(237, -1.01, "90°")))

sA = dict(xdom=[0, 3], xticks=T_OMEGA, xfmt=".1f", idom=[19.85, 20.33], iticks=[20.0, 20.2],
          ifmt=".1f", kind="band", data=bh1_20_imut, h=55, sub="Ω", title_dy=17.5)
sB = dict(xdom=[0, 3], xticks=T_OMEGA, xfmt=".1f", idom=[19.824, 20.147], iticks=[19.9, 20.0, 20.1],
          ifmt=".1f", kind="band", data=bh2_20_imut, h=55, sub="Ω", title_dy=17.5)
sC = dict(xdom=[0, 500], xticks=T_OUT, xfmt="d", idom=[45.8, 61.25], iticks=[50, 60], ifmt="d",
          kind="line", data=bh1_60_imut, lw=4, h=53, sub="out", title_dy=15.5)
sD = dict(xdom=[0, 500], xticks=T_OUT, xfmt="d", idom=[43.8, 61.4], iticks=[50, 60], ifmt="d",
          kind="line", data=bh2_60_imut, lw=4, h=53, sub="out", title_dy=15.5)
sE = dict(xdom=[0, 500], xticks=T_OUT, xfmt="d", idom=[39.5, 92.0], iticks=[40, 60, 80], ifmt="d",
          kind="line", data=bh1_90_imut, lw=1.6, h=52, sub="out", title_dy=15.5)
sF = dict(xdom=[0, 500], xticks=T_OUT, xfmt="d", idom=[39.5, 92.0], iticks=[40, 60, 80], ifmt="d",
          kind="line", data=bh2_90_imut, lw=1.6, h=52, sub="out", title_dy=15.5)


def cell(m, s, gap):
    return alt.vconcat(main_panel(m), small_panel(s), spacing=gap, bounds="flush")


HS = 9
row1 = alt.hconcat(cell(A, sA, 5), cell(B, sB, 5), spacing=HS)
row2 = alt.hconcat(cell(C, sC, 4), cell(D, sD, 4), spacing=HS)
row3 = alt.hconcat(cell(E, sE, 4), cell(F, sF, 4), spacing=HS)

chart = alt.vconcat(row1, alt.vconcat(row2, row3, spacing=8.5), spacing=3).properties(
    padding={"left": 2.75, "top": 7, "right": 0, "bottom": 0}
).configure_view(
    stroke="#b5b5b5", strokeWidth=1
).configure_axis(
    labelFont=SANS, labelFontSize=8, labelColor="#222222", labelPadding=2,
    tickSize=2, tickColor="#9a9a9a", gridColor="#e4e4e4", domain=False,
    titleFont=SANS, titleFontSize=12, titleFontStyle="italic", titleFontWeight="normal",
    titleColor=INK
)

chart.save("out.html", embed_options={"renderer": "svg", "actions": False})
